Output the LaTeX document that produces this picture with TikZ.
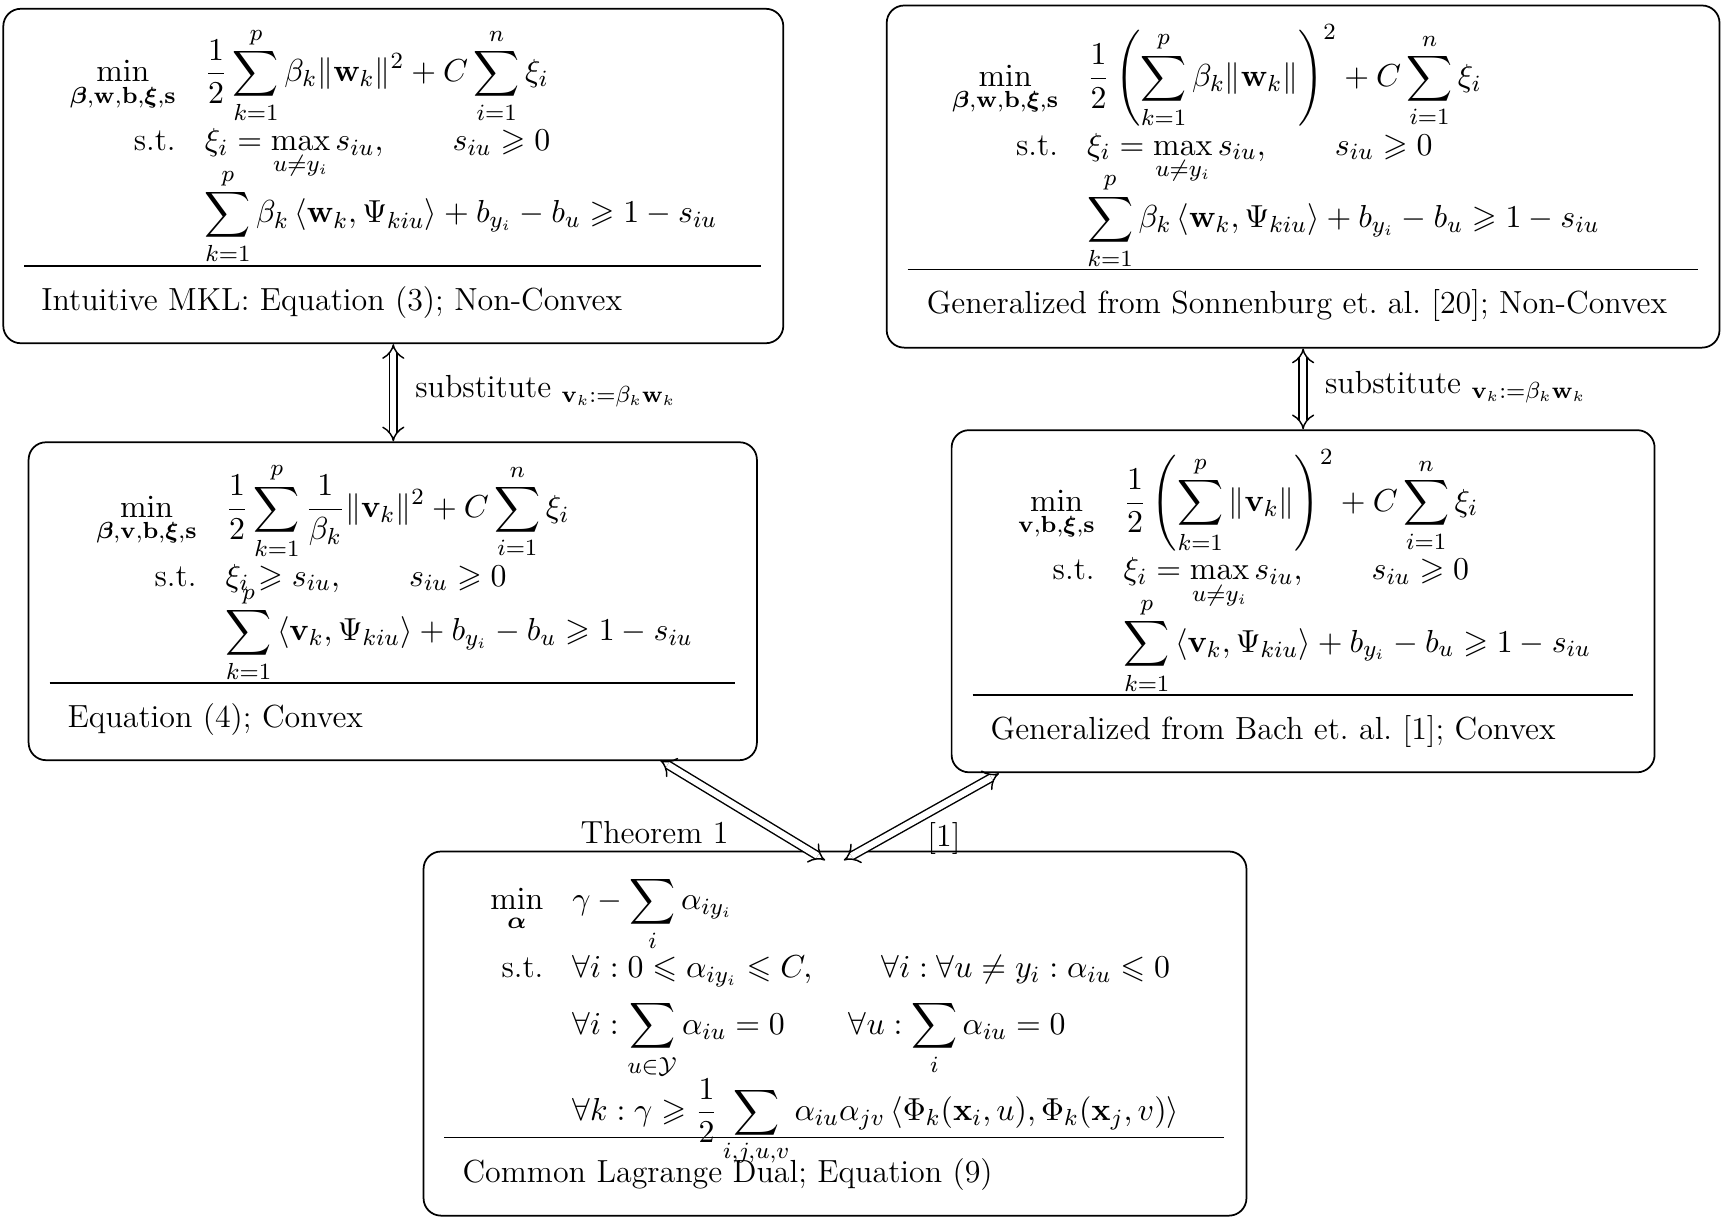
\documentclass[tikz,border=0pt]{standalone}
\usepackage{amsmath,amssymb,array}
\usetikzlibrary{fit,arrows.meta,calc}
\newcolumntype{R}{>{\displaystyle}r}
\newcolumntype{L}{>{\displaystyle}l}
\begin{document}
\begin{tikzpicture}[x=0.0133cm,y=-0.0133cm,
 every node/.style={font=\fontsize{11pt}{13pt}\selectfont},
 box/.style={draw,rounded corners=6pt,inner sep=0pt,line width=0.6pt},
 rule/.style={line width=0.6pt},
 lab/.style={anchor=west,inner sep=0pt},
 mth/.style={anchor=north west,inner sep=0pt},
 dbl/.style={double,double distance=2.2pt,line width=0.5pt,{Implies}-{Implies}}]
\useasboundingbox (0,0) rectangle (1568,1110);
\node[box,fit={(3,8)(712,312)}] (b1) {};
\node[box,fit={(806,5)(1563,316)}] (b2) {};
\node[box,fit={(26,402)(688,691)}] (b3) {};
\node[box,fit={(865,391)(1504,702)}] (b4) {};
\node[box,fit={(385,774)(1133,1105)}] (b5) {};
\draw[rule] (22,242)--(692,242); \draw[rule] (825,245)--(1543,245);
\draw[rule] (45,621)--(668,621); \draw[rule] (884,632)--(1484,632);
\draw[rule] (404,1034)--(1113,1034);
\node[lab] (l1) at (37,275) {Intuitive MKL: Equation (3); Non-Convex};
\node[lab] (l2) at (842,278) {Generalized from Sonnenburg et.\ al.\ [20]; Non-Convex};
\node[lab] (l3) at (61,654) {Equation (4); Convex};
\node[lab] (l4) at (900,665) {Generalized from Bach et.\ al.\ [1]; Convex};
\node[lab] (l5) at (420,1068) {Common Lagrange Dual; Equation (9)};
\node[mth] (m1) at (50,24) {$\begin{array}{RL}
 \min\limits_{\boldsymbol{\beta},\mathbf w,\mathbf b,\boldsymbol\xi,\mathbf s} & \frac12\sum_{k=1}^p\beta_k\|\mathbf w_k\|^2+C\sum_{i=1}^n\xi_i\\[8pt]
 \text{s.t.} & \xi_i=\max_{u\neq y_i}s_{iu},\qquad s_{iu}\geqslant0\\[-4pt]
 & \sum_{k=1}^p\beta_k\left\langle\mathbf w_k,\Psi_{kiu}\right\rangle+b_{y_i}-b_u\geqslant1-s_{iu}
\end{array}$};
\node[mth] (m2) at (852,22) {$\begin{array}{RL}
 \min\limits_{\boldsymbol{\beta},\mathbf w,\mathbf b,\boldsymbol\xi,\mathbf s} & \frac12\left(\sum_{k=1}^p\beta_k\|\mathbf w_k\|\right)^2+C\sum_{i=1}^n\xi_i\\[8pt]
 \text{s.t.} & \xi_i=\max_{u\neq y_i}s_{iu},\qquad s_{iu}\geqslant0\\[-4pt]
 & \sum_{k=1}^p\beta_k\left\langle\mathbf w_k,\Psi_{kiu}\right\rangle+b_{y_i}-b_u\geqslant1-s_{iu}
\end{array}$};
\node[mth] (m3) at (74,420) {$\begin{array}{RL}
 \min\limits_{\boldsymbol{\beta},\mathbf v,\mathbf b,\boldsymbol\xi,\mathbf s} & \frac12\sum_{k=1}^p\frac1{\beta_k}\|\mathbf v_k\|^2+C\sum_{i=1}^n\xi_i\\[8pt]
 \text{s.t.} & \xi_i\geqslant s_{iu},\qquad s_{iu}\geqslant0\\[-4pt]
 & \sum_{k=1}^p\left\langle\mathbf v_k,\Psi_{kiu}\right\rangle+b_{y_i}-b_u\geqslant1-s_{iu}
\end{array}$};
\node[mth] (m4) at (912,408) {$\begin{array}{RL}
 \min\limits_{\mathbf v,\mathbf b,\boldsymbol\xi,\mathbf s} & \frac12\left(\sum_{k=1}^p\|\mathbf v_k\|\right)^2+C\sum_{i=1}^n\xi_i\\[8pt]
 \text{s.t.} & \xi_i=\max_{u\neq y_i}s_{iu},\qquad s_{iu}\geqslant0\\[-4pt]
 & \sum_{k=1}^p\left\langle\mathbf v_k,\Psi_{kiu}\right\rangle+b_{y_i}-b_u\geqslant1-s_{iu}
\end{array}$};
\node[mth] (m5) at (432,796) {$\begin{array}{RL}
 \min_{\boldsymbol\alpha}\ & \gamma-\sum_i\alpha_{iy_i}\\[4pt]
 \text{s.t.} & \forall i:0\leqslant\alpha_{iy_i}\leqslant C,\qquad\forall i:\forall u\neq y_i:\alpha_{iu}\leqslant0\\[4pt]
 & \forall i:\sum_{u\in\mathcal Y}\alpha_{iu}=0\qquad\forall u:\sum_i\alpha_{iu}=0\\
 & \forall k:\gamma\geqslant\frac12\sum_{i,j,u,v}\alpha_{iu}\alpha_{jv}\left\langle\Phi_k(\mathbf x_i,u),\Phi_k(\mathbf x_j,v)\right\rangle
\end{array}$};
\draw[dbl] (b1.south) -- node[right=4pt,pos=0.48] {substitute $_{\mathbf v_k:=\beta_k\mathbf w_k}$} (b3.north-|b1.south);
\draw[dbl] (b2.south) -- node[right=4pt,pos=0.48] {substitute $_{\mathbf v_k:=\beta_k\mathbf w_k}$} (b4.north-|b2.south);
\coordinate (t1) at (600,691); \coordinate (t2) at (750,782);
\coordinate (r1) at (908,703); \coordinate (r2) at (767,782);
\draw[dbl] (t1) -- (t2);
\draw[dbl] (r1) -- (r2);
\node (th) at (595,757) {Theorem 1};
\node (c1) at (858,762) {[1]};
\end{tikzpicture}
\end{document}
